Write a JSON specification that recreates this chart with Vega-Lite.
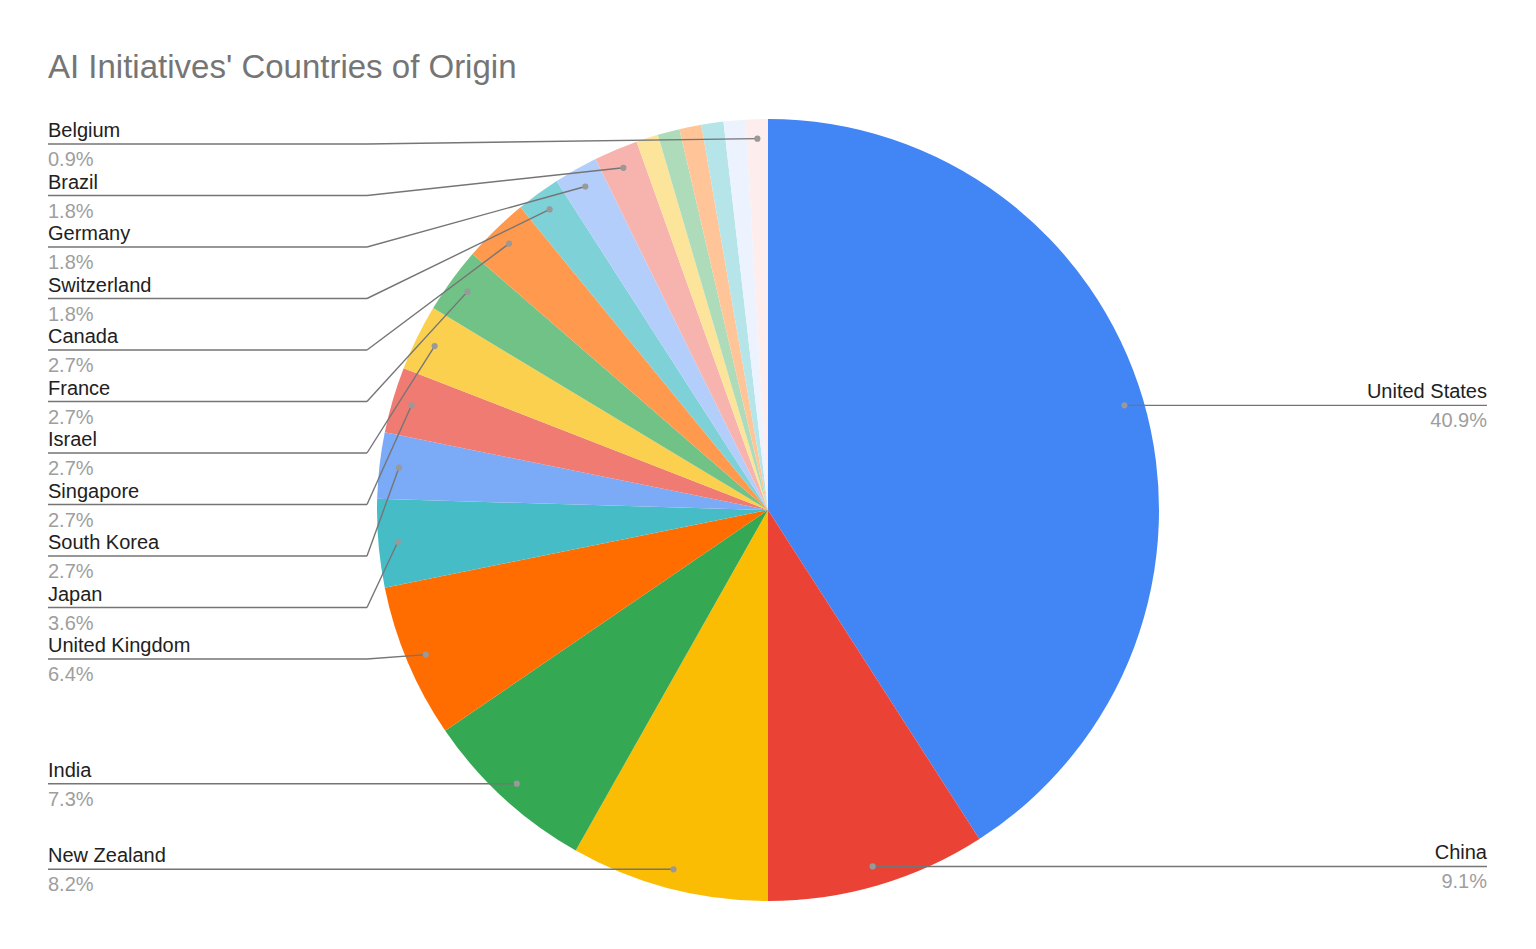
{
  "$schema": "https://vega.github.io/schema/vega-lite/v6.json",
  "description": "AI initiatives by country of origin, pie chart with leader-line labels",
  "width": 1536,
  "height": 800,
  "autosize": "none",
  "padding": {"top": 110, "left": 0, "right": 0, "bottom": 39},
  "background": "white",
  "title": {
    "text": "AI Initiatives' Countries of Origin",
    "anchor": "start",
    "dx": 48,
    "offset": 25,
    "font": "Liberation Sans",
    "fontSize": 33,
    "fontWeight": "normal",
    "color": "#757575"
  },
  "config": {"view": {"stroke": null}},
  "data": {
    "values": [
      {"order": 1, "country": "United States", "count": 45, "show": true},
      {"order": 2, "country": "China", "count": 10, "show": true},
      {"order": 3, "country": "New Zealand", "count": 9, "show": true},
      {"order": 4, "country": "India", "count": 8, "show": true},
      {"order": 5, "country": "United Kingdom", "count": 7, "show": true},
      {"order": 6, "country": "Japan", "count": 4, "show": true},
      {"order": 7, "country": "South Korea", "count": 3, "show": true},
      {"order": 8, "country": "Singapore", "count": 3, "show": true},
      {"order": 9, "country": "Israel", "count": 3, "show": true},
      {"order": 10, "country": "France", "count": 3, "show": true},
      {"order": 11, "country": "Canada", "count": 3, "show": true},
      {"order": 12, "country": "Switzerland", "count": 2, "show": true},
      {"order": 13, "country": "Germany", "count": 2, "show": true},
      {"order": 14, "country": "Brazil", "count": 2, "show": true},
      {"order": 15, "country": "Unlabeled 1", "count": 1, "show": false},
      {"order": 16, "country": "Unlabeled 2", "count": 1, "show": false},
      {"order": 17, "country": "Unlabeled 3", "count": 1, "show": false},
      {"order": 18, "country": "Unlabeled 4", "count": 1, "show": false},
      {"order": 19, "country": "Unlabeled 5", "count": 1, "show": false},
      {"order": 20, "country": "Belgium", "count": 1, "show": true}
    ]
  },
  "transform": [
    {"joinaggregate": [{"op": "sum", "field": "count", "as": "total"}]},
    {"window": [{"op": "sum", "field": "count", "as": "cum"}], "sort": [{"field": "order"}], "frame": [null, 0]},
    {"calculate": "2 * PI * (datum.cum - datum.count) / datum.total", "as": "a0"},
    {"calculate": "2 * PI * datum.cum / datum.total", "as": "a1"},
    {"calculate": "(datum.a0 + datum.a1) / 2", "as": "mid"},
    {"calculate": "371.5 * sin(datum.mid)", "as": "px"},
    {"calculate": "-371.5 * cos(datum.mid)", "as": "py"},
    {"calculate": "datum.px < 0 ? 'left' : 'right'", "as": "side"},
    {"calculate": "format(datum.count / datum.total, '.1%')", "as": "pct"}
  ],
  "layer": [
    {
      "mark": {"type": "arc", "outerRadius": 391, "stroke": null},
      "encoding": {
        "theta": {"field": "a0", "type": "quantitative", "scale": null},
        "theta2": {"field": "a1"},
        "color": {
          "field": "country",
          "type": "nominal",
          "legend": null,
          "scale": {
            "domain": ["United States", "China", "New Zealand", "India", "United Kingdom", "Japan", "South Korea", "Singapore", "Israel", "France", "Canada", "Switzerland", "Germany", "Brazil", "Unlabeled 1", "Unlabeled 2", "Unlabeled 3", "Unlabeled 4", "Unlabeled 5", "Belgium"],
            "range": ["#4285F4", "#EA4335", "#FBBC04", "#34A853", "#FF6D01", "#46BDC6", "#7BAAF7", "#F07B72", "#FCD04F", "#71C287", "#FF994D", "#7ED1D7", "#B3CEFB", "#F7B4AE", "#FDE49B", "#AEDCBA", "#FFC599", "#B5E5E8", "#ECF3FE", "#FDEDEC"]
          }
        }
      }
    },
    {
      "transform": [
        {"filter": "datum.show"},
        {"window": [{"op": "row_number", "as": "rn"}], "groupby": ["side"], "sort": [{"field": "order", "order": "descending"}]},
        {"calculate": "datum.side == 'left' ? max(datum.py, -366 + (datum.rn - 1) * 51.5) : datum.py", "as": "ly"},
        {"calculate": "datum.side == 'left' ? -720 : 719", "as": "lx"},
        {"calculate": "datum.side == 'left' ? -401 : 401", "as": "ex"}
      ],
      "encoding": {
        "x": {"type": "quantitative", "scale": {"domain": [-768, 768]}, "axis": null},
        "y": {"type": "quantitative", "scale": {"domain": [-400, 400], "reverse": true}, "axis": null}
      },
      "layer": [
        {
          "mark": {"type": "rule", "color": "#757575", "strokeWidth": 1.4},
          "encoding": {
            "x": {"field": "lx", "type": "quantitative"},
            "x2": {"field": "ex"},
            "y": {"field": "ly", "type": "quantitative"}
          }
        },
        {
          "mark": {"type": "rule", "color": "#757575", "strokeWidth": 1.4},
          "encoding": {
            "x": {"field": "ex", "type": "quantitative"},
            "x2": {"field": "px"},
            "y": {"field": "ly", "type": "quantitative"},
            "y2": {"field": "py"}
          }
        },
        {
          "mark": {"type": "circle", "color": "#999999", "opacity": 1, "size": 38},
          "encoding": {
            "x": {"field": "px", "type": "quantitative"},
            "y": {"field": "py", "type": "quantitative"}
          }
        },
        {
          "transform": [{"filter": "datum.side == 'left'"}],
          "mark": {"type": "text", "align": "left", "baseline": "alphabetic", "dy": -7, "font": "Liberation Sans", "fontSize": 20, "color": "#212121"},
          "encoding": {
            "x": {"field": "lx", "type": "quantitative"},
            "y": {"field": "ly", "type": "quantitative"},
            "text": {"field": "country"}
          }
        },
        {
          "transform": [{"filter": "datum.side == 'left'"}],
          "mark": {"type": "text", "align": "left", "baseline": "alphabetic", "dy": 22, "font": "Liberation Sans", "fontSize": 20, "color": "#9e9e9e"},
          "encoding": {
            "x": {"field": "lx", "type": "quantitative"},
            "y": {"field": "ly", "type": "quantitative"},
            "text": {"field": "pct"}
          }
        },
        {
          "transform": [{"filter": "datum.side == 'right'"}],
          "mark": {"type": "text", "align": "right", "baseline": "alphabetic", "dy": -7, "font": "Liberation Sans", "fontSize": 20, "color": "#212121"},
          "encoding": {
            "x": {"field": "lx", "type": "quantitative"},
            "y": {"field": "ly", "type": "quantitative"},
            "text": {"field": "country"}
          }
        },
        {
          "transform": [{"filter": "datum.side == 'right'"}],
          "mark": {"type": "text", "align": "right", "baseline": "alphabetic", "dy": 22, "font": "Liberation Sans", "fontSize": 20, "color": "#9e9e9e"},
          "encoding": {
            "x": {"field": "lx", "type": "quantitative"},
            "y": {"field": "ly", "type": "quantitative"},
            "text": {"field": "pct"}
          }
        }
      ]
    }
  ]
}
